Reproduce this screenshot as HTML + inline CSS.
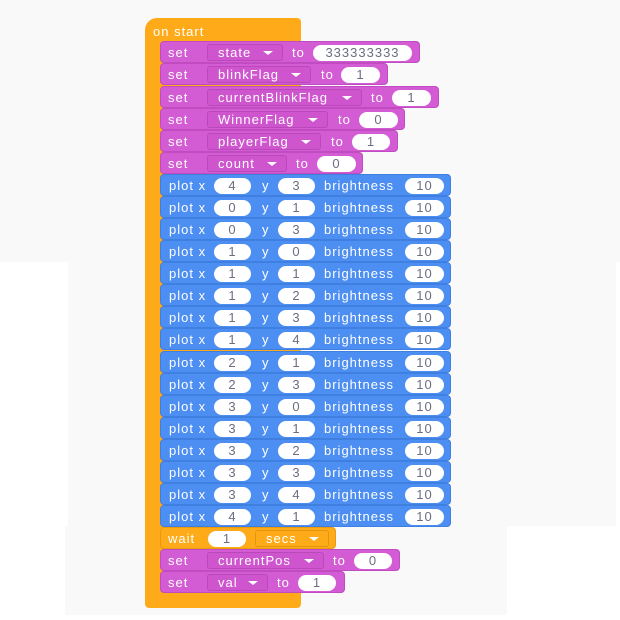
<!DOCTYPE html>
<html><head><meta charset="utf-8"><style>
body{margin:0;width:620px;height:620px;position:relative;background:#fff;overflow:hidden;font-family:"Liberation Sans",sans-serif;font-size:13px;letter-spacing:1px}
.g{position:absolute;background:#f9f9f9}
.b{position:absolute;height:22px;border-radius:4px;box-sizing:border-box}
.p{background:#d35bd3;border:1px solid #c14bc1}
.u{background:#4c8ef2;border:1px solid #3f7fe0}
.o{background:#ffab19}
.t{position:absolute;top:3px;color:#fff;line-height:15px;white-space:nowrap}
.d{position:absolute;top:2px;height:17px;border:1px solid #bb48bb;background:#cf55cf;border-radius:3px;box-sizing:border-box;color:#fff;line-height:15px;padding-left:10px;white-space:nowrap}
.d:after{content:"";position:absolute;right:9px;top:6px;border-left:5px solid transparent;border-right:5px solid transparent;border-top:4px solid #fff}
.v{position:absolute;top:3px;height:16px;background:#fff;border-radius:8px;color:#6a6f80;text-align:center;line-height:16px}
</style></head><body>
<div class="g" style="left:0;top:0;width:620px;height:262px"></div>
<div class="g" style="left:68px;top:262px;width:548px;height:264px"></div>
<div class="g" style="left:65px;top:526px;width:442px;height:89px"></div>

<div class="o" style="position:absolute;left:145px;top:18px;width:156px;height:590px;border-radius:12px 4px 4px 4px"></div>
<div class="t" style="left:153px;top:24px">on start</div>

<div class="b p" style="left:160px;top:41px;width:260px"><span class="t" style="left:7px">set</span><span class="d" style="left:46px;width:76px">state</span><span class="t" style="left:131px">to</span><span class="v" style="left:152px;width:99px">333333333</span></div>
<div class="b p" style="left:160px;top:63px;width:228px"><span class="t" style="left:7px">set</span><span class="d" style="left:46px;width:104px">blinkFlag</span><span class="t" style="left:160px">to</span><span class="v" style="left:180px;width:39px">1</span></div>
<div class="b p" style="left:160px;top:86px;width:279px"><span class="t" style="left:7px">set</span><span class="d" style="left:46px;width:155px">currentBlinkFlag</span><span class="t" style="left:210px">to</span><span class="v" style="left:231px;width:39px">1</span></div>
<div class="b p" style="left:160px;top:108px;width:245px"><span class="t" style="left:7px">set</span><span class="d" style="left:46px;width:121px">WinnerFlag</span><span class="t" style="left:177px">to</span><span class="v" style="left:198px;width:39px">0</span></div>
<div class="b p" style="left:160px;top:130px;width:238px"><span class="t" style="left:7px">set</span><span class="d" style="left:46px;width:114px">playerFlag</span><span class="t" style="left:170px">to</span><span class="v" style="left:191px;width:38px">1</span></div>
<div class="b p" style="left:160px;top:152px;width:203px"><span class="t" style="left:7px">set</span><span class="d" style="left:46px;width:80px">count</span><span class="t" style="left:135px">to</span><span class="v" style="left:156px;width:39px">0</span></div>

<div class="b u" style="left:160px;top:174px;width:291px"><span class="t" style="left:8px">plot x</span><span class="v" style="left:53px;width:37px">4</span><span class="t" style="left:101px">y</span><span class="v" style="left:117px;width:37px">3</span><span class="t" style="left:163px">brightness</span><span class="v" style="left:244px;width:39px">10</span></div>
<div class="b u" style="left:160px;top:196px;width:291px"><span class="t" style="left:8px">plot x</span><span class="v" style="left:53px;width:37px">0</span><span class="t" style="left:101px">y</span><span class="v" style="left:117px;width:37px">1</span><span class="t" style="left:163px">brightness</span><span class="v" style="left:244px;width:39px">10</span></div>
<div class="b u" style="left:160px;top:218px;width:291px"><span class="t" style="left:8px">plot x</span><span class="v" style="left:53px;width:37px">0</span><span class="t" style="left:101px">y</span><span class="v" style="left:117px;width:37px">3</span><span class="t" style="left:163px">brightness</span><span class="v" style="left:244px;width:39px">10</span></div>
<div class="b u" style="left:160px;top:240px;width:291px"><span class="t" style="left:8px">plot x</span><span class="v" style="left:53px;width:37px">1</span><span class="t" style="left:101px">y</span><span class="v" style="left:117px;width:37px">0</span><span class="t" style="left:163px">brightness</span><span class="v" style="left:244px;width:39px">10</span></div>
<div class="b u" style="left:160px;top:262px;width:291px"><span class="t" style="left:8px">plot x</span><span class="v" style="left:53px;width:37px">1</span><span class="t" style="left:101px">y</span><span class="v" style="left:117px;width:37px">1</span><span class="t" style="left:163px">brightness</span><span class="v" style="left:244px;width:39px">10</span></div>
<div class="b u" style="left:160px;top:284px;width:291px"><span class="t" style="left:8px">plot x</span><span class="v" style="left:53px;width:37px">1</span><span class="t" style="left:101px">y</span><span class="v" style="left:117px;width:37px">2</span><span class="t" style="left:163px">brightness</span><span class="v" style="left:244px;width:39px">10</span></div>
<div class="b u" style="left:160px;top:306px;width:291px"><span class="t" style="left:8px">plot x</span><span class="v" style="left:53px;width:37px">1</span><span class="t" style="left:101px">y</span><span class="v" style="left:117px;width:37px">3</span><span class="t" style="left:163px">brightness</span><span class="v" style="left:244px;width:39px">10</span></div>
<div class="b u" style="left:160px;top:328px;width:291px"><span class="t" style="left:8px">plot x</span><span class="v" style="left:53px;width:37px">1</span><span class="t" style="left:101px">y</span><span class="v" style="left:117px;width:37px">4</span><span class="t" style="left:163px">brightness</span><span class="v" style="left:244px;width:39px">10</span></div>
<div class="b u" style="left:160px;top:351px;width:291px"><span class="t" style="left:8px">plot x</span><span class="v" style="left:53px;width:37px">2</span><span class="t" style="left:101px">y</span><span class="v" style="left:117px;width:37px">1</span><span class="t" style="left:163px">brightness</span><span class="v" style="left:244px;width:39px">10</span></div>
<div class="b u" style="left:160px;top:373px;width:291px"><span class="t" style="left:8px">plot x</span><span class="v" style="left:53px;width:37px">2</span><span class="t" style="left:101px">y</span><span class="v" style="left:117px;width:37px">3</span><span class="t" style="left:163px">brightness</span><span class="v" style="left:244px;width:39px">10</span></div>
<div class="b u" style="left:160px;top:395px;width:291px"><span class="t" style="left:8px">plot x</span><span class="v" style="left:53px;width:37px">3</span><span class="t" style="left:101px">y</span><span class="v" style="left:117px;width:37px">0</span><span class="t" style="left:163px">brightness</span><span class="v" style="left:244px;width:39px">10</span></div>
<div class="b u" style="left:160px;top:417px;width:291px"><span class="t" style="left:8px">plot x</span><span class="v" style="left:53px;width:37px">3</span><span class="t" style="left:101px">y</span><span class="v" style="left:117px;width:37px">1</span><span class="t" style="left:163px">brightness</span><span class="v" style="left:244px;width:39px">10</span></div>
<div class="b u" style="left:160px;top:439px;width:291px"><span class="t" style="left:8px">plot x</span><span class="v" style="left:53px;width:37px">3</span><span class="t" style="left:101px">y</span><span class="v" style="left:117px;width:37px">2</span><span class="t" style="left:163px">brightness</span><span class="v" style="left:244px;width:39px">10</span></div>
<div class="b u" style="left:160px;top:461px;width:291px"><span class="t" style="left:8px">plot x</span><span class="v" style="left:53px;width:37px">3</span><span class="t" style="left:101px">y</span><span class="v" style="left:117px;width:37px">3</span><span class="t" style="left:163px">brightness</span><span class="v" style="left:244px;width:39px">10</span></div>
<div class="b u" style="left:160px;top:483px;width:291px"><span class="t" style="left:8px">plot x</span><span class="v" style="left:53px;width:37px">3</span><span class="t" style="left:101px">y</span><span class="v" style="left:117px;width:37px">4</span><span class="t" style="left:163px">brightness</span><span class="v" style="left:244px;width:39px">10</span></div>
<div class="b u" style="left:160px;top:505px;width:291px"><span class="t" style="left:8px">plot x</span><span class="v" style="left:53px;width:37px">4</span><span class="t" style="left:101px">y</span><span class="v" style="left:117px;width:37px">1</span><span class="t" style="left:163px">brightness</span><span class="v" style="left:244px;width:39px">10</span></div>

<div class="b o" style="left:160px;top:527px;width:176px;border:1px solid #e89a10"><span class="t" style="left:7px">wait</span><span class="v" style="left:47px;width:38px">1</span><span class="d" style="left:94px;width:74px;background:#ffab19;border-color:#e0960e">secs</span></div>
<div class="b p" style="left:160px;top:549px;width:240px"><span class="t" style="left:7px">set</span><span class="d" style="left:46px;width:117px">currentPos</span><span class="t" style="left:172px">to</span><span class="v" style="left:193px;width:38px">0</span></div>
<div class="b p" style="left:160px;top:571px;width:185px"><span class="t" style="left:7px">set</span><span class="d" style="left:46px;width:61px">val</span><span class="t" style="left:116px">to</span><span class="v" style="left:137px;width:38px">1</span></div>
</body></html>
